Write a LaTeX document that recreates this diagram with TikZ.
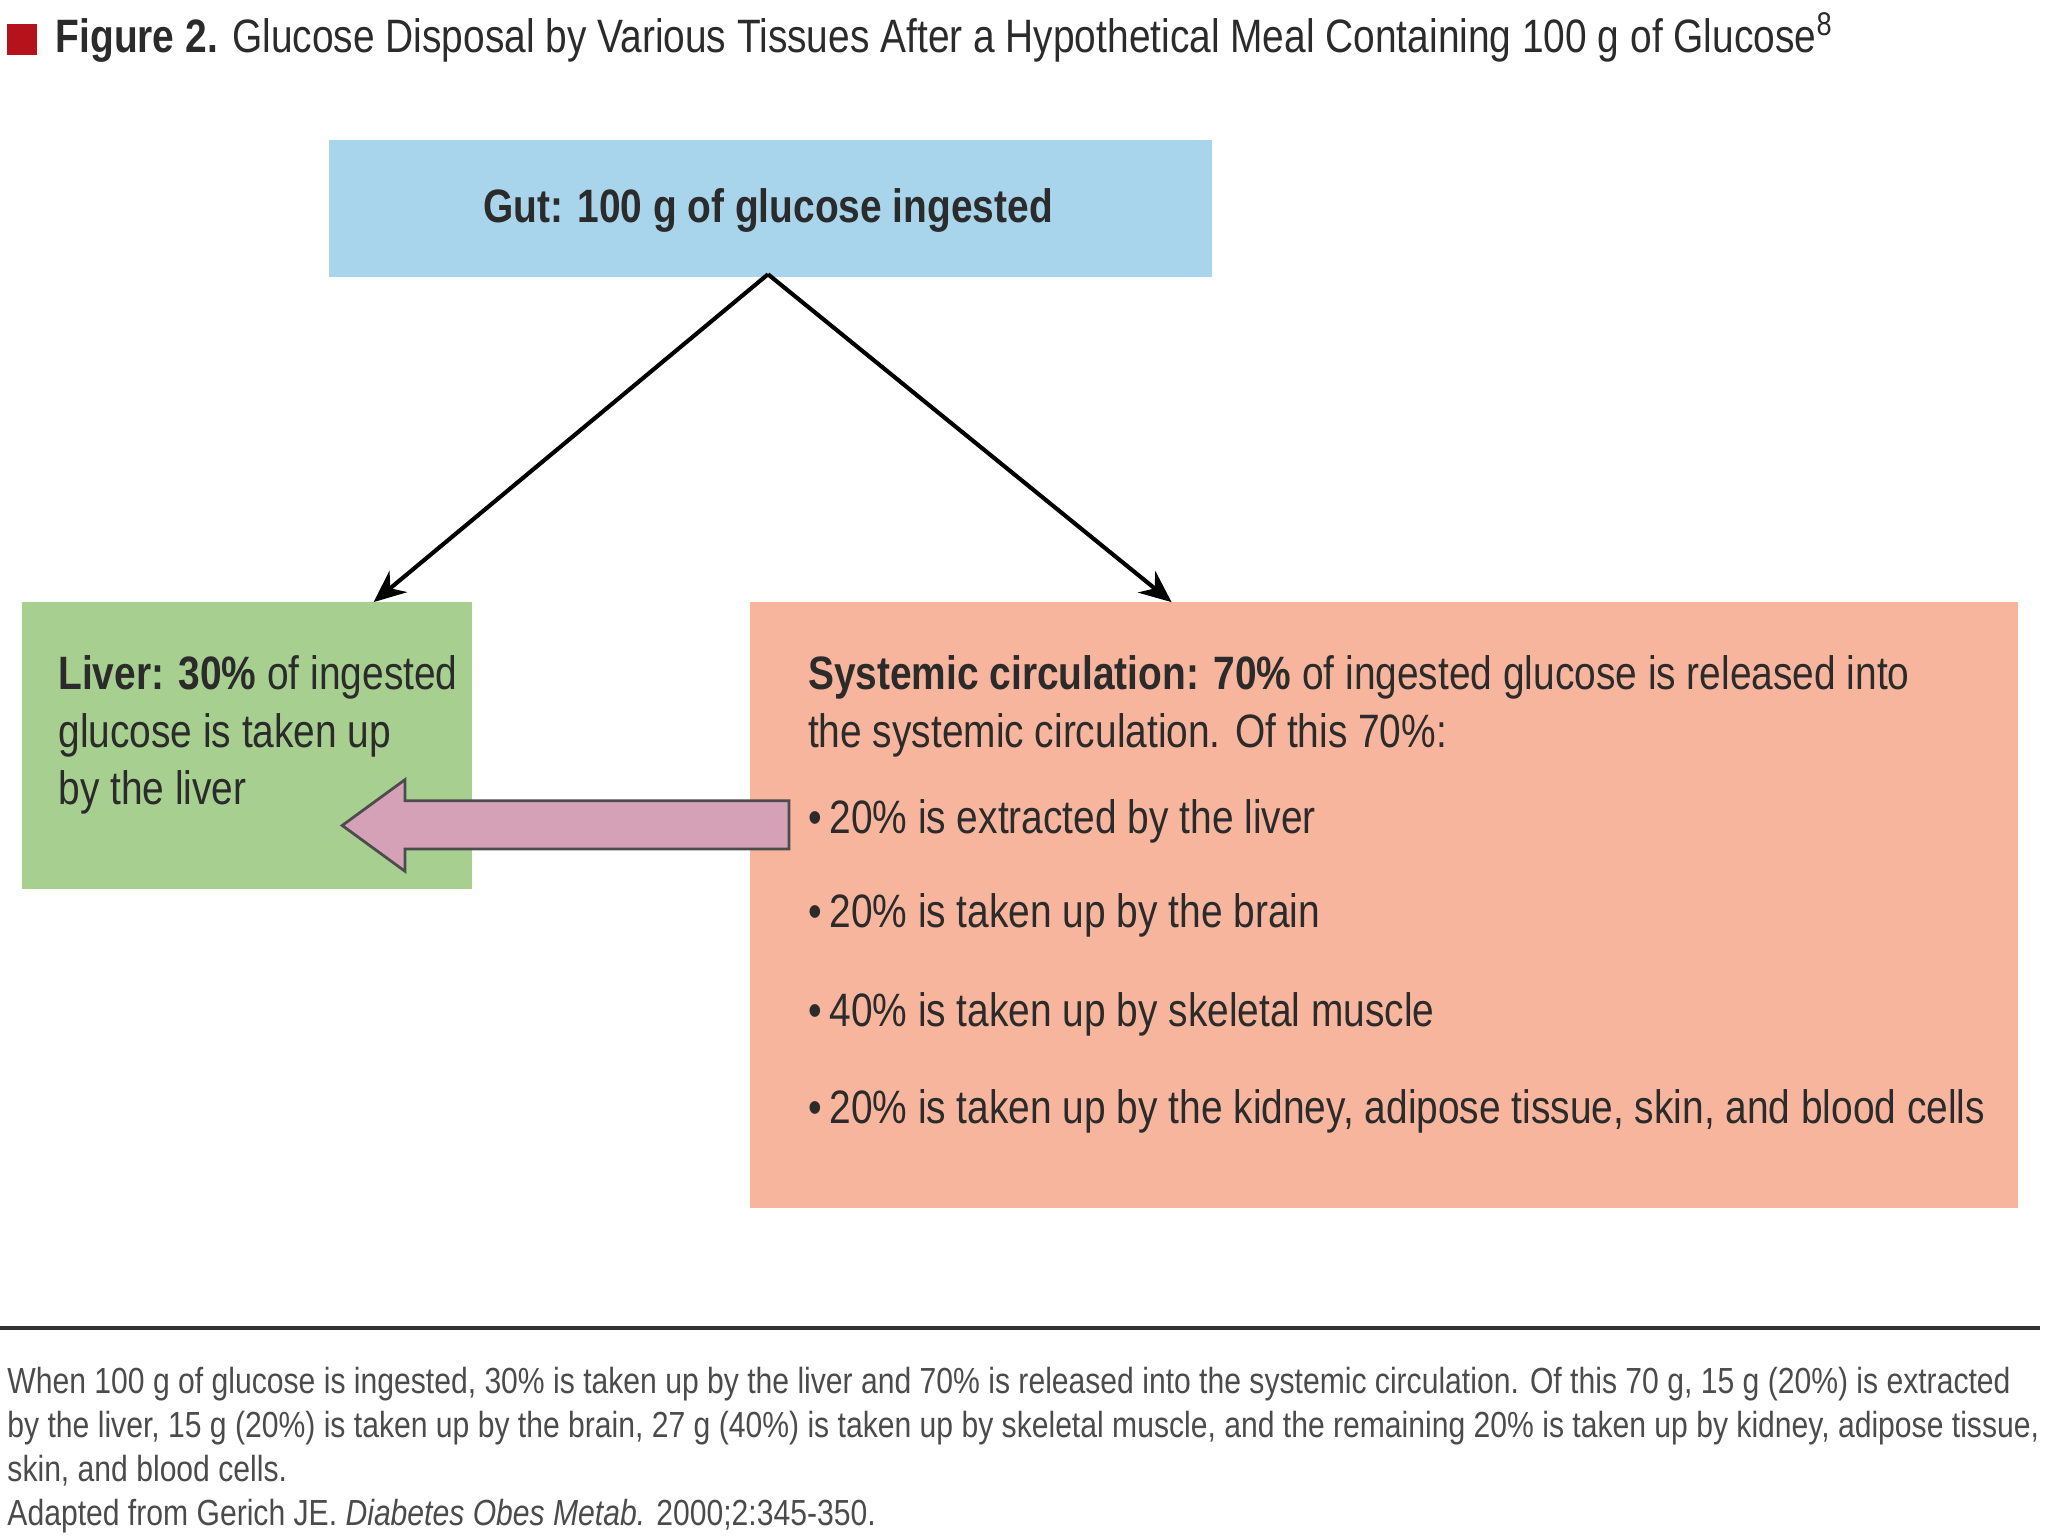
\documentclass[tikz,border=0pt]{standalone}
\usepackage{fontspec}
\setmainfont{Liberation Sans}[FakeStretch=0.83]
\usetikzlibrary{arrows.meta}
\definecolor{gutc}{HTML}{A9D5EC}
\definecolor{livc}{HTML}{A7CF8F}
\definecolor{sysc}{HTML}{F7B59D}
\definecolor{arrc}{HTML}{D4A1B6}
\definecolor{txt}{HTML}{2B2B2B}
\definecolor{figred}{HTML}{B5121B}
\begin{document}
\begin{tikzpicture}[x=0.01cm,y=-0.01cm,
  btxt/.style={anchor=base west,inner sep=0pt,text=txt,font=\fontsize{10.2}{12.5}\selectfont,align=left},
  captxt/.style={anchor=base west,inner sep=0pt,text=txt!85,font=\fontsize{7.9}{9.6}\selectfont,align=left},
  flow/.style={-{Stealth[length=7pt,width=6pt]},line width=0.9pt,black}]
\useasboundingbox (0,0) rectangle (1568,1176);
% title
\fill[figred] (5,18) rectangle (28,42);
\node[anchor=base west,inner sep=0pt,text=txt,font=\fontsize{10.2}{12}\selectfont] (title) at (42,40)
  {\textbf{Figure 2.} Glucose Disposal by Various Tissues After a Hypothetical Meal Containing 100 g of Glucose\textsuperscript{8}};
% boxes
\fill[gutc] (252,107) rectangle (928,212);
\node[anchor=base,inner sep=0pt,text=txt,font=\fontsize{10.2}{12}\selectfont\bfseries] (guttxt) at (588,170) {Gut: 100 g of glucose ingested};
\coordinate (gs) at (588,210);
\fill[livc] (17,461) rectangle (361,681);
\fill[sysc] (574,461) rectangle (1545,925);
\coordinate (la) at (286,461);
\coordinate (ra) at (897,461);
\draw[flow] (gs) -- (la);
\draw[flow] (gs) -- (ra);
\node[btxt] (livtxt) at (44,616) {\textbf{Liver: 30\%} of ingested\\glucose is taken up\\by the liver};
\node[btxt] (systxt) at (618,572) {\textbf{Systemic circulation: 70\%} of ingested glucose is released into\\the systemic circulation. Of this 70\%:};
\node[btxt] (b1) at (618,638) {\textbullet\,20\% is extracted by the liver};
\node[btxt] (b2) at (618,710) {\textbullet\,20\% is taken up by the brain};
\node[btxt] (b3) at (618,786) {\textbullet\,40\% is taken up by skeletal muscle};
\node[btxt] (b4) at (618,860) {\textbullet\,20\% is taken up by the kidney, adipose tissue, skin, and blood cells};
% big arrow
\draw[fill=arrc,draw=black!70,line width=0.6pt] (604,613) -- (310,613) -- (310,597) -- (262,632) -- (310,667) -- (310,650) -- (604,650) -- cycle;
% rule and caption
\draw[line width=0.8pt,black!80] (0,1017) -- (1562,1017);
\node[captxt] (caption) at (5,1168) {When 100 g of glucose is ingested, 30\% is taken up by the liver and 70\% is released into the systemic circulation. Of this 70 g, 15 g (20\%) is extracted\\by the liver, 15 g (20\%) is taken up by the brain, 27 g (40\%) is taken up by skeletal muscle, and the remaining 20\% is taken up by kidney, adipose tissue,\\skin, and blood cells.\\Adapted from Gerich JE. \textit{Diabetes Obes Metab.} 2000;2:345-350.};
\end{tikzpicture}
\end{document}
